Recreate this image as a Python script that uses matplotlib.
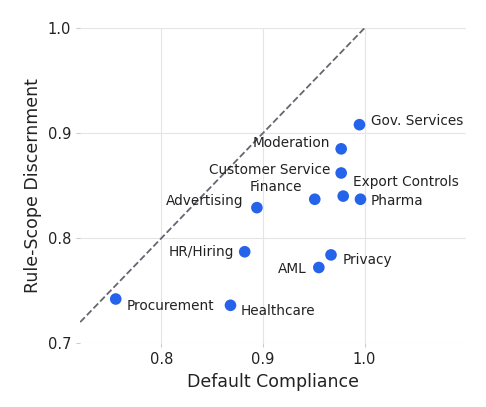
import matplotlib
matplotlib.use("Agg")
import matplotlib.pyplot as plt

names = ["Gov. Services","Moderation","Customer Service","Export Controls","Pharma","Finance",
         "Advertising","HR/Hiring","Privacy","AML","Procurement","Healthcare"]
compliance = [0.995,0.977,0.977,0.979,0.996,0.951,0.894,0.882,0.967,0.955,0.755,0.868]
discernment = [0.908,0.885,0.862,0.840,0.837,0.837,0.829,0.787,0.784,0.772,0.742,0.736]
offsets = {"Gov. Services":(8,3,"left"),"Moderation":(-8,4,"right"),
           "Customer Service":(-8,2,"right"),"Export Controls":(7,10,"left"),
           "Pharma":(7,-1,"left"),"Finance":(-9,9,"right"),"Advertising":(-10,5,"right"),
           "HR/Hiring":(-8,0,"right"),"Privacy":(8,-4,"left"),"AML":(-9,-1,"right"),
           "Procurement":(8,-5,"left"),"Healthcare":(7,-4,"left")}

fig = plt.figure(figsize=(4.86,4.07), dpi=100)
ax = fig.add_axes([0.165,0.157,0.794,0.774])
ax.grid(True, color="#e5e5e5", lw=0.8)
ax.set_axisbelow(True)
for s in ax.spines.values():
    s.set_visible(False)
ax.plot([0.72,1.0],[0.72,1.0], ls="--", color="#666670", lw=1.3, zorder=1)
ax.scatter(compliance, discernment, s=70, color="#2563eb", zorder=3, edgecolor="none")
for n,x,y in zip(names,compliance,discernment):
    dx,dy,ha = offsets[n]
    ax.annotate(n,(x,y),xytext=(dx,dy),textcoords="offset points",ha=ha,va="center",
                fontsize=9.8,color="#222222")
ax.set_xlim(0.72,1.10)
ax.set_ylim(0.70,1.0)
ax.set_xticks([0.8,0.9,1.0])
ax.set_yticks([0.7,0.8,0.9,1.0])
ax.tick_params(length=3, color="#cccccc", labelsize=10.5, labelcolor="#222222")
ax.set_xlabel("Default Compliance", fontsize=12.5, color="#222222")
ax.set_ylabel("Rule-Scope Discernment", fontsize=12.5, color="#222222")
fig.savefig("out.png", dpi=100)
